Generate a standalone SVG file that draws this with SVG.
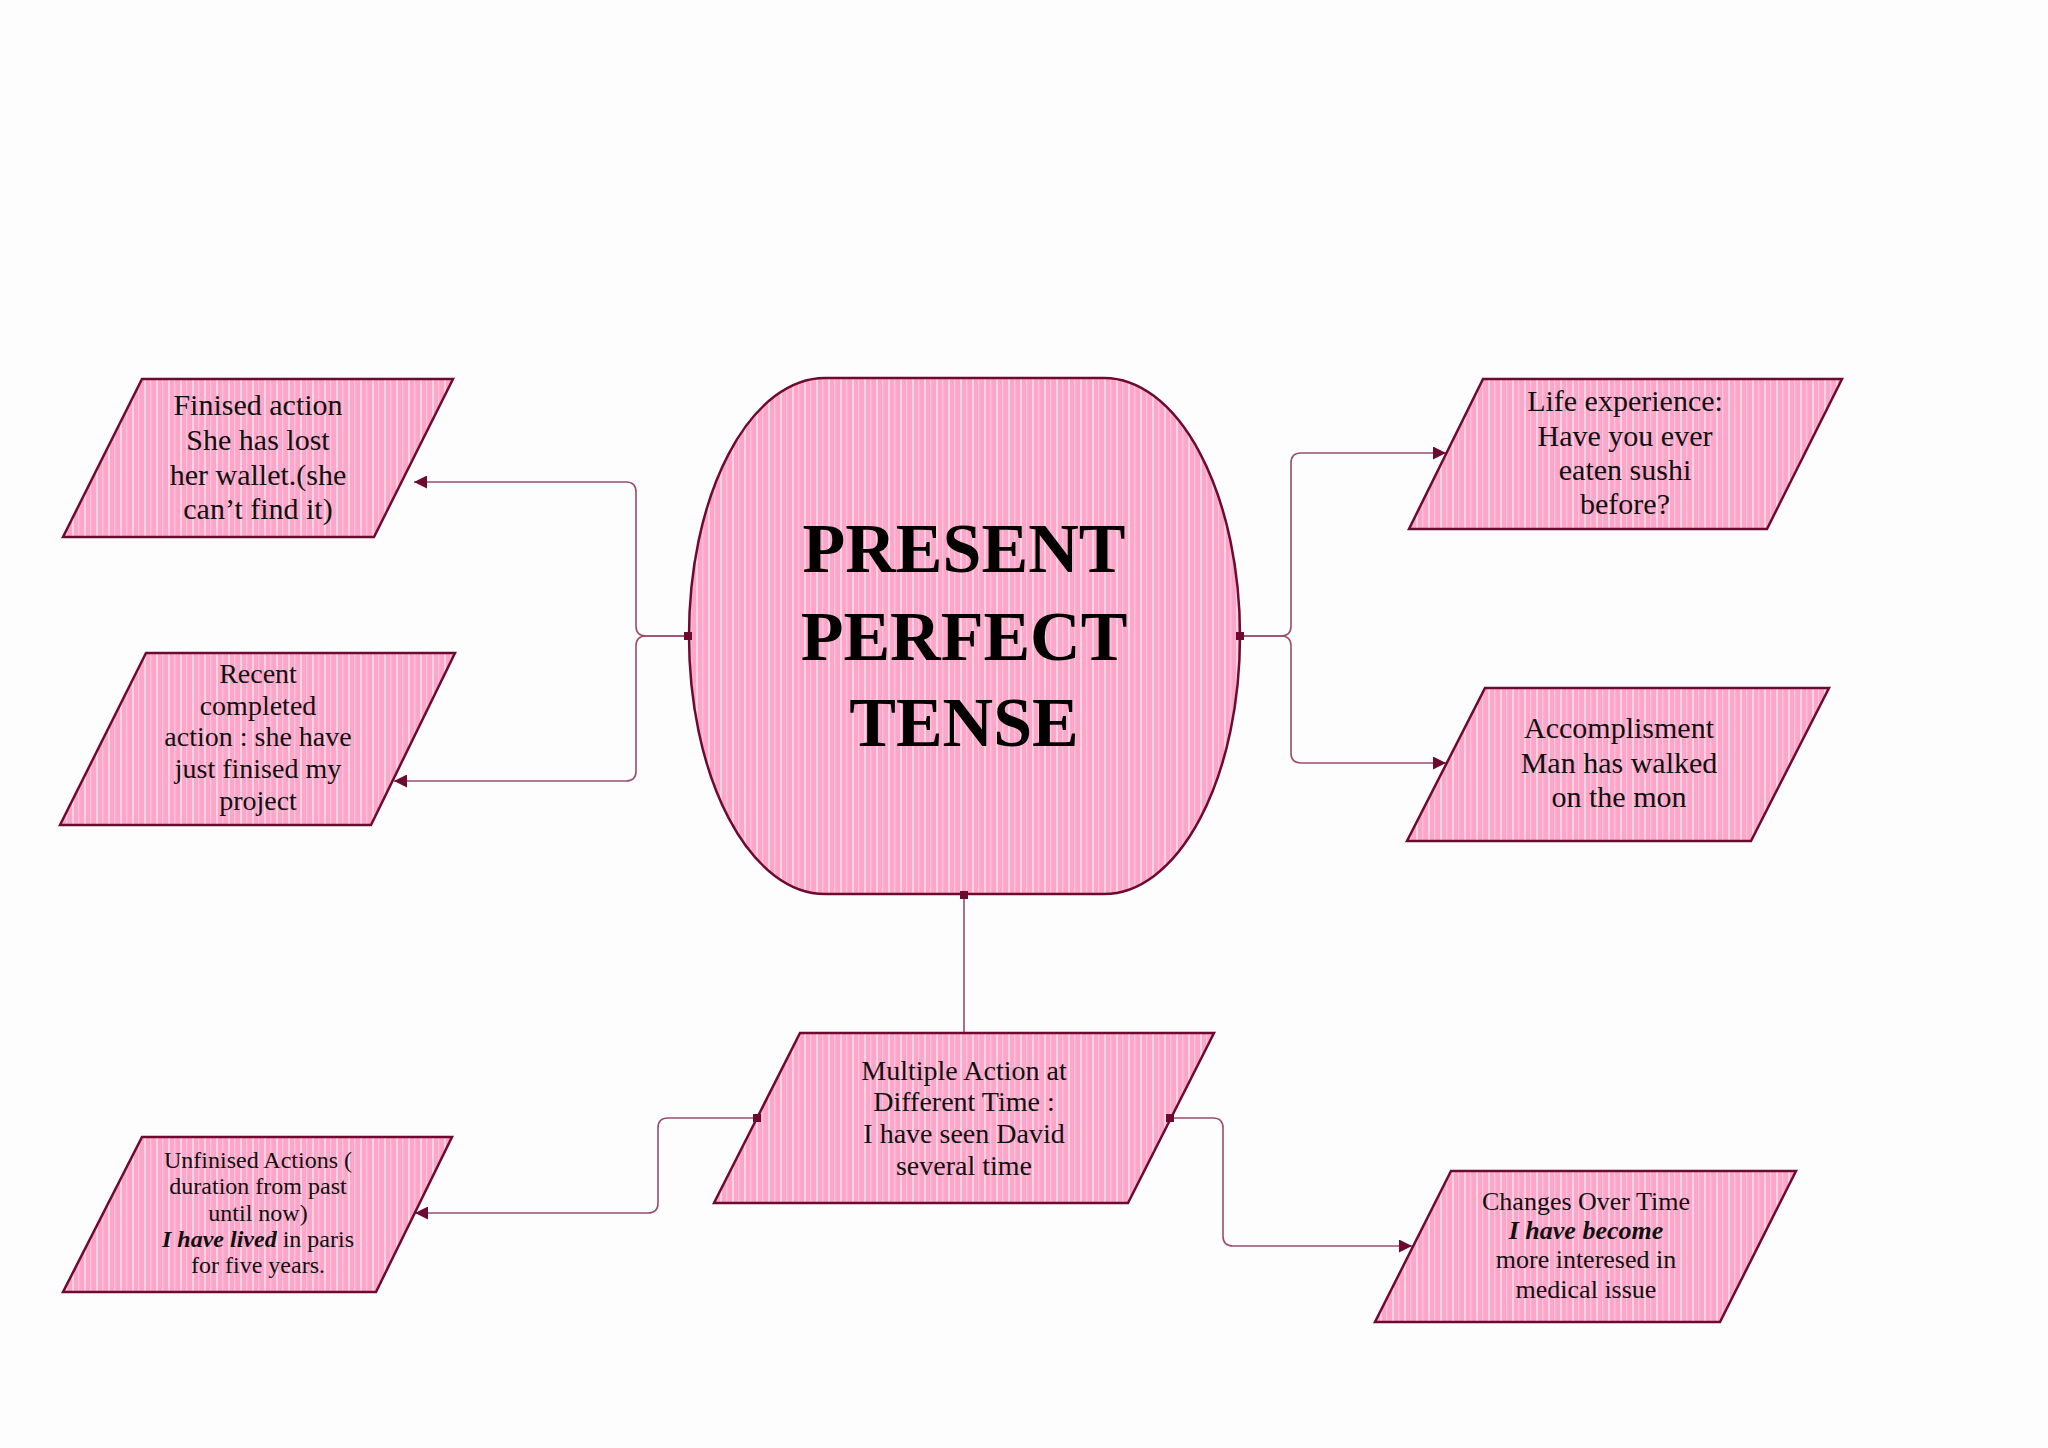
<svg xmlns="http://www.w3.org/2000/svg" width="2048" height="1448" viewBox="0 0 2048 1448">
<defs>
<pattern id="stripes" patternUnits="userSpaceOnUse" width="12" height="20">
<rect width="12" height="20" fill="#FCA7C9"/>
<rect x="0" width="2" height="20" fill="#FDD3E3"/>
<rect x="6" width="1.3" height="20" fill="#FDC3DA"/>
</pattern>
<marker id="arr" viewBox="0 0 12 12" refX="12" refY="6" markerWidth="13" markerHeight="13" markerUnits="userSpaceOnUse" orient="auto">
<path d="M0,0 L12,6 L0,12 Z" fill="#6E0A32"/>
</marker>
<style>
.shape{fill:url(#stripes);stroke:#6E0A32;stroke-width:2.5;stroke-linejoin:miter}
.conn{fill:none;stroke:#9A4D6C;stroke-width:1.6}
.pt{fill:#6E0A32}
.t{font-family:"Liberation Serif","Times New Roman",serif;fill:#111;text-anchor:middle}
.title{font-family:"Liberation Serif","Times New Roman",serif;font-weight:bold;fill:#000;text-anchor:middle;font-size:70px}
.bi{font-weight:bold;font-style:italic}
</style>
</defs>
<rect width="2048" height="1448" fill="#FEFDFE"/>

<g id="connectors">
<path class="conn" d="M688,636 H646 Q636,636 636,626 V492 Q636,482 626,482 H414" marker-end="url(#arr)"/>
<path class="conn" d="M688,636 H646 Q636,636 636,646 V771 Q636,781 626,781 H394" marker-end="url(#arr)"/>
<path class="conn" d="M1240,636 H1281 Q1291,636 1291,626 V463 Q1291,453 1301,453 H1446" marker-end="url(#arr)"/>
<path class="conn" d="M1240,636 H1281 Q1291,636 1291,646 V753 Q1291,763 1301,763 H1446" marker-end="url(#arr)"/>
<path class="conn" d="M964,895 V1033"/>
<path class="conn" d="M757,1118 H668 Q658,1118 658,1128 V1203 Q658,1213 648,1213 H415" marker-end="url(#arr)"/>
<path class="conn" d="M1170,1118 H1213 Q1223,1118 1223,1128 V1236 Q1223,1246 1233,1246 H1412" marker-end="url(#arr)"/>
</g>

<g id="center">
<path class="shape" d="M825,378 H1104 A136,258 0 0 1 1240,636 A136,258 0 0 1 1104,894 H825 A136,258 0 0 1 689,636 A136,258 0 0 1 825,378 Z"/>
<text class="title" x="964" y="572">PRESENT</text>
<text class="title" x="964" y="660">PERFECT</text>
<text class="title" x="964" y="746">TENSE</text>
</g>

<g id="finished">
<polygon class="shape" points="142,379 453,379 374,537 63,537"/>
<text class="t" font-size="30" x="258" y="415">Finised action</text>
<text class="t" font-size="30" x="258" y="450">She has lost</text>
<text class="t" font-size="30" x="258" y="485">her wallet.(she</text>
<text class="t" font-size="30" x="258" y="519">can’t find it)</text>
</g>

<g id="recent">
<polygon class="shape" points="146,653 455,653 371,825 60,825"/>
<text class="t" font-size="28" x="258" y="683">Recent</text>
<text class="t" font-size="28" x="258" y="715">completed</text>
<text class="t" font-size="28" x="258" y="746">action : she have</text>
<text class="t" font-size="28" x="258" y="778">just finised my</text>
<text class="t" font-size="28" x="258" y="810">project</text>
</g>

<g id="life">
<polygon class="shape" points="1483,379 1842,379 1767,529 1409,529"/>
<text class="t" font-size="30" x="1625" y="411">Life experience:</text>
<text class="t" font-size="30" x="1625" y="446">Have you ever</text>
<text class="t" font-size="30" x="1625" y="480">eaten sushi</text>
<text class="t" font-size="30" x="1625" y="514">before?</text>
</g>

<g id="accomplishment">
<polygon class="shape" points="1485,688 1829,688 1751,841 1407,841"/>
<text class="t" font-size="30" x="1619" y="738">Accomplisment</text>
<text class="t" font-size="30" x="1619" y="773">Man has walked</text>
<text class="t" font-size="30" x="1619" y="807">on the mon</text>
</g>

<g id="multiple">
<polygon class="shape" points="800,1033 1214,1033 1128,1203 714,1203"/>
<text class="t" font-size="28" x="964" y="1080">Multiple Action at</text>
<text class="t" font-size="28" x="964" y="1111">Different Time :</text>
<text class="t" font-size="28" x="964" y="1143">I have seen David</text>
<text class="t" font-size="28" x="964" y="1175">several time</text>
</g>

<g id="unfinished">
<polygon class="shape" points="142,1137 452,1137 376,1292 63,1292"/>
<text class="t" font-size="24" x="258" y="1168">Unfinised Actions (</text>
<text class="t" font-size="24" x="258" y="1194">duration from past</text>
<text class="t" font-size="24" x="258" y="1221">until now)</text>
<text class="t" font-size="24" x="258" y="1247"><tspan class="bi">I have lived</tspan> in paris</text>
<text class="t" font-size="24" x="258" y="1273">for five years.</text>
</g>

<g id="changes">
<polygon class="shape" points="1451,1171 1796,1171 1720,1322 1375,1322"/>
<text class="t" font-size="26" x="1586" y="1210">Changes Over Time</text>
<text class="t bi" font-size="26" x="1586" y="1239">I have become</text>
<text class="t" font-size="26" x="1586" y="1268">more interesed in</text>
<text class="t" font-size="26" x="1586" y="1298">medical issue</text>
</g>

<g id="points">
<rect class="pt" x="684" y="632" width="8" height="8"/>
<rect class="pt" x="1236" y="632" width="8" height="8"/>
<rect class="pt" x="960" y="891" width="8" height="8"/>
<rect class="pt" x="753" y="1114" width="8" height="8"/>
<rect class="pt" x="1166" y="1114" width="8" height="8"/>
</g>
</svg>
